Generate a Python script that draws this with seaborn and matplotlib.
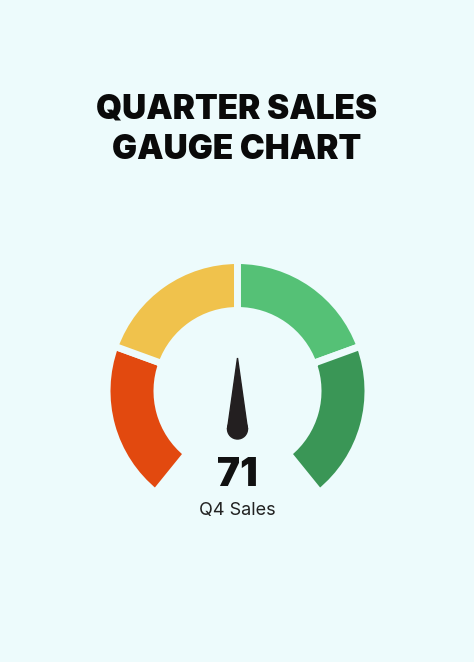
import numpy as np
import matplotlib
matplotlib.use("Agg")
import matplotlib.pyplot as plt
import seaborn as sns
from matplotlib.patches import Polygon, Circle

# ---- data ----
title_lines = ["QUARTER SALES", "GAUGE CHART"]
segment_labels = ["Low", "Fair", "Good", "Excellent"]
segment_sizes = [71, 70, 70, 71]          # degrees of arc per band
blank_size = [78]                          # open part of the gauge
segment_colors = ["#E2490F", "#F0C24C", "#55C176", "#3A9656"]
gauge_value = 71
gauge_label = "Q4 Sales"
needle_angle_deg = 90

BG = "#EDFBFC"

sns.set_theme(style="white")
plt.rcParams["font.family"] = ["Inter", "DejaVu Sans"]

fig = plt.figure(figsize=(4.74, 6.62), dpi=100, facecolor=BG)
ax = fig.add_axes([0, 0, 1, 1])
ax.set_facecolor(BG)

W, H = 474, 662
cx, cy = 237.5, H - 391
gap_lw = 5.0                                # points
gap_px = gap_lw * 100 / 72
r_out, ring_w = 127 + gap_px / 2, 43 + gap_px

wedges, _ = ax.pie(
    segment_sizes + blank_size,
    colors=segment_colors + ["none"],
    startangle=231,
    counterclock=False,
    center=(cx, cy),
    radius=r_out,
    wedgeprops=dict(width=ring_w, edgecolor=BG, linewidth=gap_lw),
)
wedges[-1].set_edgecolor("none")

# needle
px, py = cx, cy - 38
length, half_w = 71, 10
a = np.deg2rad(needle_angle_deg)
tip = (px + length * np.cos(a), py + length * np.sin(a))
perp = a + np.pi / 2
b1 = (px + half_w * np.cos(perp), py + half_w * np.sin(perp))
b2 = (px - half_w * np.cos(perp), py - half_w * np.sin(perp))
ax.add_patch(Polygon([tip, b1, b2], closed=True, color="#231F20", zorder=5))
ax.add_patch(Circle((px, py), half_w, color="#231F20", zorder=5))

ax.text(cx, H - 475, str(gauge_value), ha="center", va="center",
        fontsize=28, fontweight="black", color="#111111")
ax.text(cx, H - 510, gauge_label, ha="center", va="center",
        fontsize=13, fontweight="normal", color="#222222")

ax.text(W / 2, H - 110, title_lines[0], ha="center", va="center",
        fontsize=24, fontweight="black", color="#0A0A0A")
ax.text(W / 2, H - 150, title_lines[1], ha="center", va="center",
        fontsize=24, fontweight="black", color="#0A0A0A")

ax.set_xlim(0, W)
ax.set_ylim(0, H)
ax.set_aspect("equal")
ax.axis("off")

fig.savefig("out.png", dpi=100, facecolor=BG)
